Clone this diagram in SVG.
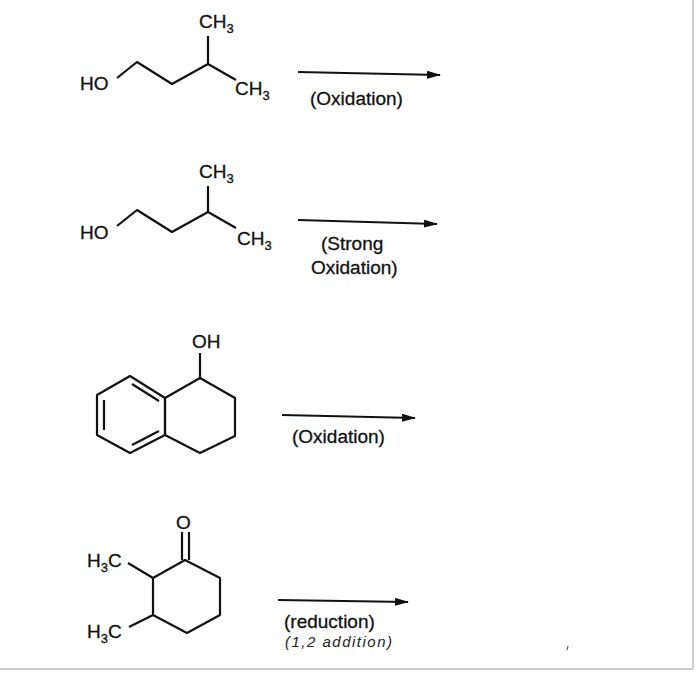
<svg xmlns="http://www.w3.org/2000/svg" width="700" height="678" viewBox="0 0 700 678">
<defs>
<marker id="ah" markerWidth="14" markerHeight="8" refX="13" refY="4" orient="auto" markerUnits="userSpaceOnUse"><path d="M0,0 L14,4 L0,8 Z" fill="#111"/></marker>
<style>
.b{stroke:#111;stroke-width:2.2;fill:none;stroke-linejoin:round}
.t{font-family:"Liberation Sans",Arial,sans-serif;font-size:19px;fill:#111;stroke:#111;stroke-width:0.3}
.s{font-size:13px}
.a{stroke:#111;stroke-width:2;fill:none}
.h{font-family:"Liberation Sans",sans-serif;font-size:15px;font-style:italic;fill:#222;letter-spacing:1.5px}
</style>
</defs>
<rect width="700" height="678" fill="#fff"/>
<line x1="693" y1="0" x2="693" y2="669" stroke="#ccc" stroke-width="2"/>
<line x1="0" y1="669" x2="693" y2="669" stroke="#ccc" stroke-width="2"/>
<g id="mol1">
<polyline class="b" points="117,78 137,62 172,84 208,64 236,80"/>
<line class="b" x1="208" y1="64" x2="208" y2="36"/>
<text class="t" x="80" y="90">HO</text>
<text class="t" x="199" y="28">CH<tspan class="s" dy="5">3</tspan></text>
<text class="t" x="235" y="95">CH<tspan class="s" dy="5">3</tspan></text>
</g>
<g id="mol2">
<polyline class="b" points="117,226 137,210 172,232 208,212 236,228"/>
<line class="b" x1="208" y1="212" x2="208" y2="186"/>
<text class="t" x="80" y="239">HO</text>
<text class="t" x="199" y="178">CH<tspan class="s" dy="5">3</tspan></text>
<text class="t" x="237" y="245">CH<tspan class="s" dy="5">3</tspan></text>
</g>
<g id="mol3">
<polygon class="b" points="200,378 235,398 235,436 200,453 165,435 165,398"/>
<polygon class="b" points="165,398 130,376 97,395 97,435 130,453 165,435"/>
<line class="b" x1="132" y1="384" x2="159" y2="401"/>
<line class="b" x1="104" y1="400" x2="104" y2="430"/>
<line class="b" x1="132" y1="445" x2="159" y2="431"/>
<line class="b" x1="200" y1="378" x2="200" y2="353"/>
<text class="t" x="192" y="348">OH</text>
</g>
<g id="mol4">
<polygon class="b" points="185,560 220,578 220,615 187,633 153,615 153,578"/>
<line class="b" x1="182" y1="532" x2="182" y2="560"/>
<line class="b" x1="189" y1="532" x2="189" y2="560"/>
<line class="b" x1="153" y1="578" x2="128" y2="563"/>
<line class="b" x1="153" y1="615" x2="129" y2="627"/>
<text class="t" x="176" y="529">O</text>
<text class="t" x="87" y="567">H<tspan class="s" dy="5">3</tspan><tspan dy="-5">C</tspan></text>
<text class="t" x="87" y="638">H<tspan class="s" dy="5">3</tspan><tspan dy="-5">C</tspan></text>
</g>
<g id="connectors">
<line class="a" x1="298" y1="72" x2="440" y2="75" marker-end="url(#ah)"/>
<line class="a" x1="298" y1="220" x2="437" y2="224" marker-end="url(#ah)"/>
<line class="a" x1="282" y1="415" x2="415" y2="418" marker-end="url(#ah)"/>
<line class="a" x1="278" y1="600" x2="408" y2="602" marker-end="url(#ah)"/>
</g>
<g id="labels">
<text class="t" x="310" y="105">(Oxidation)</text>
<text class="t" x="321" y="250">(Strong</text>
<text class="t" x="311" y="274">Oxidation)</text>
<text class="t" x="292" y="443">(Oxidation)</text>
<text class="t" x="284" y="628">(reduction)</text>
<text class="h" x="285" y="647">(1,2 addition)</text>
</g>
<line x1="567" y1="650" x2="568" y2="646" stroke="#555" stroke-width="1.2"/>
</svg>
